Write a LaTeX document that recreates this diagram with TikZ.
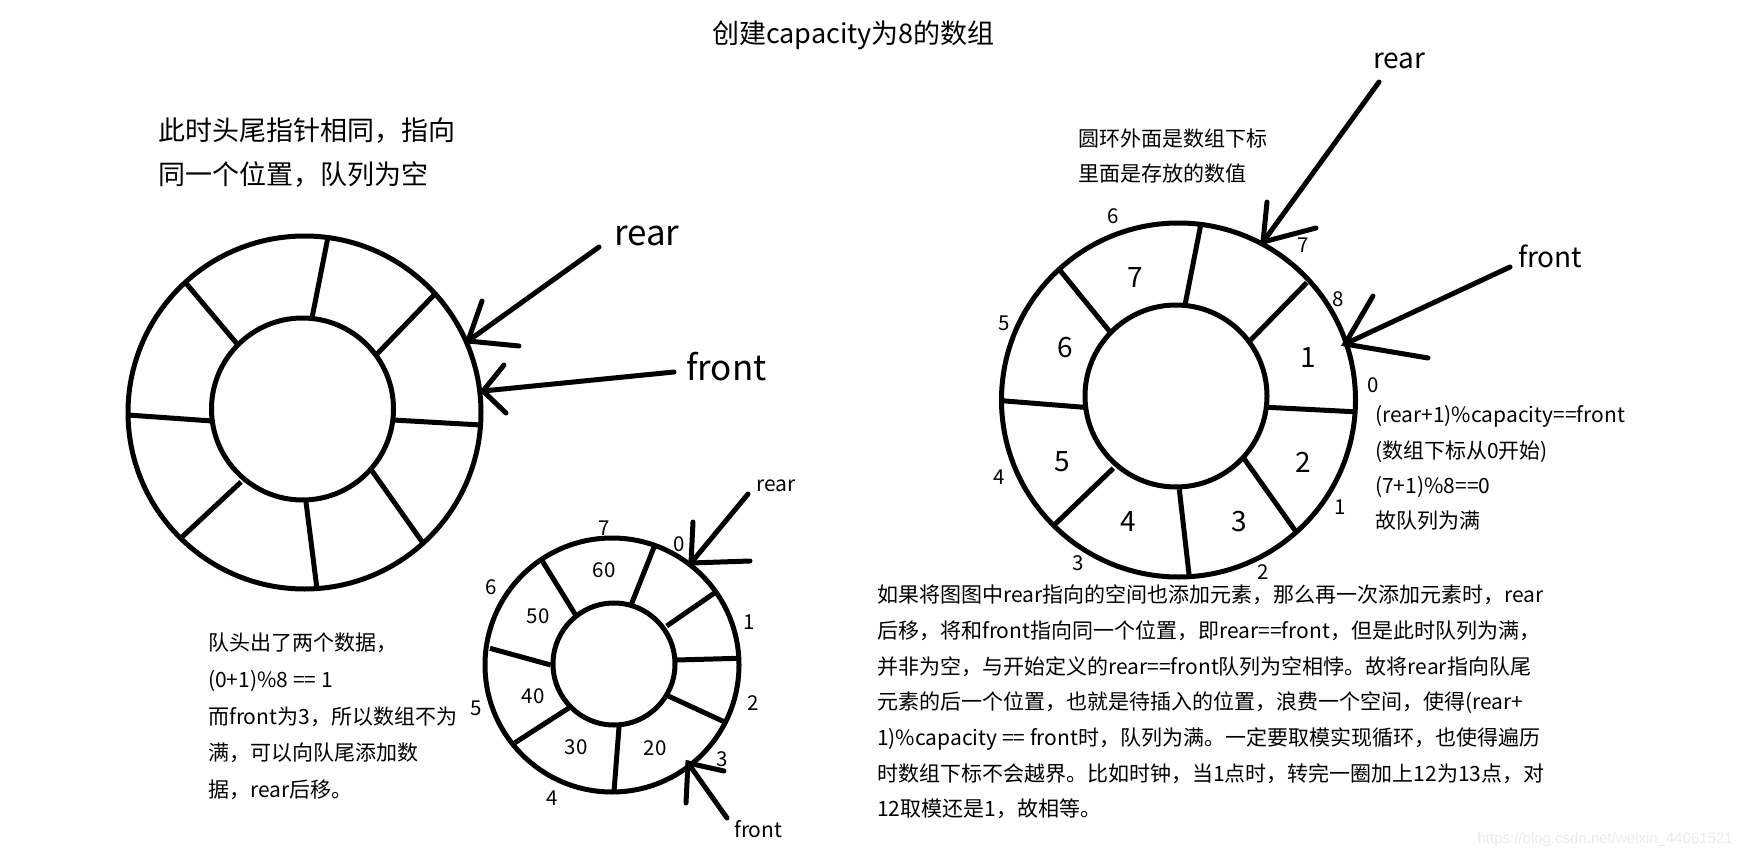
\documentclass[tikz,border=0pt]{standalone}
\usepackage{fontspec}
\setmainfont{Noto Sans CJK SC}
\newfontfamily\wmfont{Liberation Sans}
\tikzset{
  ring/.style={line width=5pt},
  ptr/.style={line width=5pt, line cap=round},
  lbl/.style={inner sep=0pt},
}
\begin{document}
\begin{tikzpicture}[x=1pt,y=-1pt]
\useasboundingbox[fill=white] (0,0) rectangle (1741,856);

% ---------- title and texts ----------
\node[lbl, font=\fontsize{27}{30}\selectfont] (title) at (853.5,35) {创建capacity为8的数组};
\node[lbl, anchor=west, align=left, font=\fontsize{27}{44}\selectfont] (empty) at (158,153)
  {此时头尾指针相同，指向\\同一个位置，队列为空};
\node[lbl, anchor=west, align=left, font=\fontsize{21}{34.5}\selectfont] (legend) at (1078,156)
  {圆环外面是数组下标\\里面是存放的数值};
\node[lbl, anchor=west, align=left, font=\fontsize{21}{35.3}\selectfont] (full) at (1375,468)
  {(rear+1)\%capacity==front\\(数组下标从0开始)\\(7+1)\%8==0\\故队列为满};
\node[lbl, anchor=west, align=left, font=\fontsize{21}{36.7}\selectfont] (notfull) at (208,716.5)
  {队头出了两个数据，\\(0+1)\%8 == 1\\而front为3，所以数组不为\\满，可以向队尾添加数\\据，rear后移。};
\node[lbl, anchor=west, align=left, font=\fontsize{21}{35.7}\selectfont] (para) at (877,702)
  {如果将图图中rear指向的空间也添加元素，那么再一次添加元素时，rear\\
   后移，将和front指向同一个位置，即rear==front，但是此时队列为满，\\
   并非为空，与开始定义的rear==front队列为空相悖。故将rear指向队尾\\
   元素的后一个位置，也就是待插入的位置，浪费一个空间，使得(rear+\\
   1)\%capacity == front时，队列为满。一定要取模实现循环，也使得遍历\\
   时数组下标不会越界。比如时钟，当1点时，转完一圈加上12为13点，对\\
   12取模还是1，故相等。};
\node[lbl, anchor=base east, text=black!8, font=\wmfont\fontsize{15}{18}\selectfont] (wm) at (1733,843)
  {https://blog.csdn.net/weixin\_44061521};

% ---------- left big ring (empty queue) ----------
\draw[ring] (304.5,412.5) circle[radius=176.5pt];
\draw[ring] (302.5,409) circle[radius=91pt];
\draw[ring] (328,237)--(312,318);
\draw[ring] (434,295)--(377,354);
\draw[ring] (481,425)--(393,420);
\draw[ring] (423,543)--(370,468);
\draw[ring] (317,589)--(306,502);
\draw[ring] (182,537)--(241,482);
\draw[ring] (128,415)--(212,421);
\draw[ring] (185,282)--(238,345);

\node[lbl, anchor=base west, font=\fontsize{35}{40}\selectfont] (rearA) at (614,245) {rear};
\node[lbl, anchor=base west, font=\fontsize{35}{40}\selectfont] (frontA) at (686,380) {front};
\coordinate (rearAs) at (599,247);
\coordinate (rearAt) at (468,341);
\coordinate (rearAb1) at (482,301);
\coordinate (rearAb2) at (519,346);
\draw[ptr] (rearAs) -- (rearAt);
\draw[ptr] (rearAb1) -- (rearAt) -- (rearAb2);
\coordinate (frontAs) at (674,372);
\coordinate (frontAt) at (483,391);
\coordinate (frontAb1) at (504,365);
\coordinate (frontAb2) at (506,413);
\draw[ptr] (frontAs) -- (frontAt);
\draw[ptr] (frontAb1) -- (frontAt) -- (frontAb2);

% ---------- small ring ----------
\draw[ring] (612,665) circle[radius=127pt];
\draw[ring] (614,664) circle[radius=61pt];
\draw[ring] (654,547.3)--(631.7,603.3);
\draw[ring] (714,593.3)--(666.7,626);
\draw[ring] (738.3,658.3)--(676.7,660);
\draw[ring] (724,721.7)--(668.3,696);
\draw[ring] (614,791.7)--(619.3,723.3);
\draw[ring] (515,742.7)--(569.3,707.7);
\draw[ring] (490,648.3)--(550.7,665);
\draw[ring] (541.7,560)--(575,614);
\begin{scope}[every node/.style={lbl, font=\fontsize{20.5}{24}\selectfont}]
\node (v60) at (604,570) {60};
\node (v50) at (538,616) {50};
\node (v40) at (533,696) {40};
\node (v30) at (576,747) {30};
\node (v20) at (655,748) {20};
\node (s7) at (604,528) {7};
\node (s0) at (679,544) {0};
\node (s1) at (749,622) {1};
\node (s2) at (753,703) {2};
\node (s3) at (722,759) {3};
\node (s4) at (552,798) {4};
\node (s5) at (476,708) {5};
\node (s6) at (491,587) {6};
\end{scope}
\node[lbl, anchor=base west, font=\fontsize{21}{24}\selectfont] (rearB) at (756,491.7) {rear};
\node[lbl, anchor=base west, font=\fontsize{21}{24}\selectfont] (frontB) at (734,837) {front};
\coordinate (rearBs) at (748,494);
\coordinate (rearBt) at (691,563);
\coordinate (rearBb1) at (693,522);
\coordinate (rearBb2) at (750,561);
\draw[ptr] (rearBs) -- (rearBt);
\draw[ptr] (rearBb1) -- (rearBt) -- (rearBb2);
\coordinate (frontBs) at (727,818);
\coordinate (frontBt) at (688,763);
\coordinate (frontBb1) at (686,803);
\coordinate (frontBb2) at (724,771);
\draw[ptr] (frontBs) -- (frontBt);
\draw[ptr] (frontBb1) -- (frontBt) -- (frontBb2);

% ---------- right ring (full queue) ----------
\draw[ring] (1178.5,400) circle[radius=177pt];
\draw[ring] (1176,396) circle[radius=91pt];
\draw[ring] (1200.7,225)--(1185,305);
\draw[ring] (1306.7,282.7)--(1250,340.7);
\draw[ring] (1353.3,411.7)--(1267.3,407.3);
\draw[ring] (1296,531.7)--(1242.7,456.7);
\draw[ring] (1189.3,576.7)--(1179.3,489.3);
\draw[ring] (1055,524.3)--(1113.3,468.3);
\draw[ring] (1001.7,400.7)--(1084,407.3);
\draw[ring] (1058.3,268.3)--(1110.7,332.7);
\begin{scope}[every node/.style={lbl, font=\fontsize{28}{32}\selectfont}]
\node (c7) at (1135,278) {7};
\node (c1) at (1308,358) {1};
\node (c6) at (1065,348) {6};
\node (c2) at (1303,462) {2};
\node (c5) at (1062,462) {5};
\node (c3) at (1239,522) {3};
\node (c4) at (1128,522) {4};
\end{scope}
\begin{scope}[every node/.style={lbl, font=\fontsize{20.5}{24}\selectfont}]
\node (r6) at (1113,216) {6};
\node (r7) at (1303,245) {7};
\node (r8) at (1338,299) {8};
\node (r0) at (1373,385) {0};
\node (r1) at (1340,507) {1};
\node (r2) at (1263,572) {2};
\node (r3) at (1078,563) {3};
\node (r4) at (999,477) {4};
\node (r5) at (1004,323) {5};
\end{scope}
\node[lbl, anchor=base west, font=\fontsize{28}{32}\selectfont] (rearC) at (1373,69) {rear};
\node[lbl, anchor=base west, font=\fontsize{28}{32}\selectfont] (frontC) at (1518,267) {front};
\coordinate (rearCs) at (1379,82);
\coordinate (rearCt) at (1263,242);
\coordinate (rearCb1) at (1267,202);
\coordinate (rearCb2) at (1316,228);
\draw[ptr] (rearCs) -- (rearCt);
\draw[ptr] (rearCb1) -- (rearCt) -- (rearCb2);
\coordinate (frontCs) at (1510,267);
\coordinate (frontCt) at (1345,344);
\coordinate (frontCb1) at (1373,296);
\coordinate (frontCb2) at (1428,358);
\draw[ptr] (frontCs) -- (frontCt);
\draw[ptr] (frontCb1) -- (frontCt) -- (frontCb2);
\end{tikzpicture}
\end{document}
